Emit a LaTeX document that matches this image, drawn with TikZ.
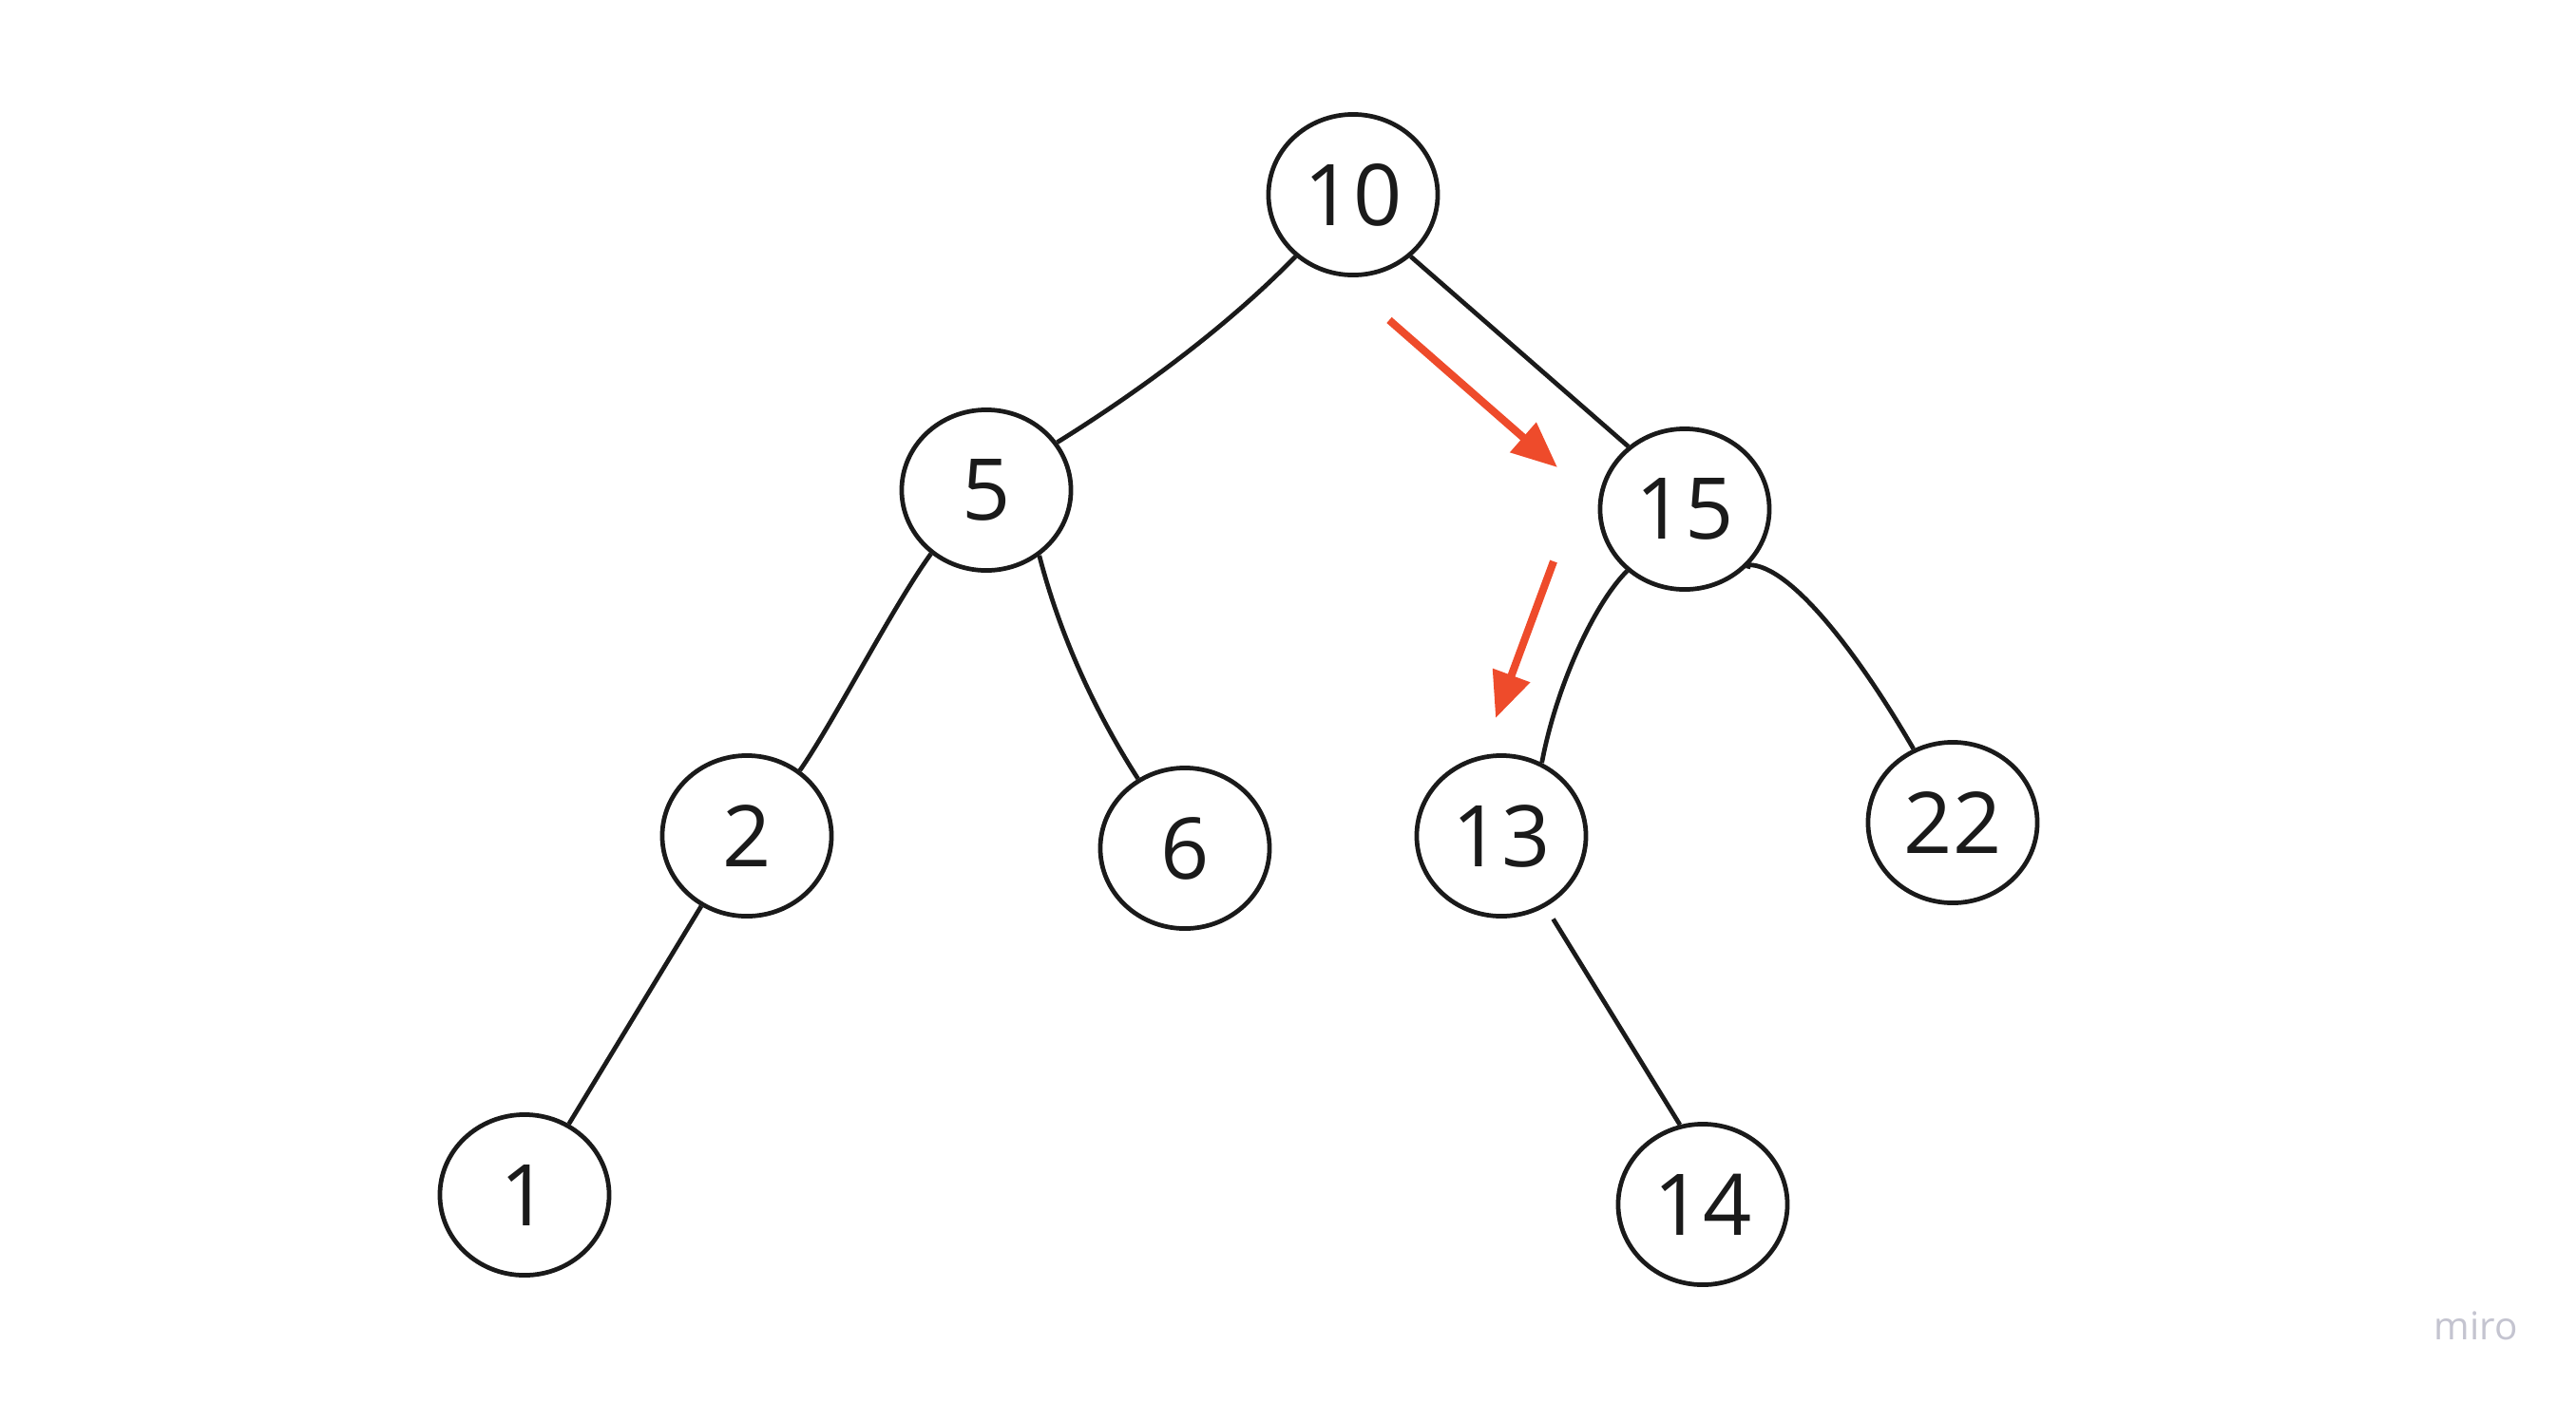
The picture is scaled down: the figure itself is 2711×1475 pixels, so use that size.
\documentclass[tikz,border=0pt]{standalone}
\usepackage{fontspec}
\setmainfont{Open Sans}
\usetikzlibrary{shapes.geometric,arrows.meta}
\definecolor{ink}{RGB}{26,26,26}
\definecolor{redarrow}{RGB}{238,75,43}
\definecolor{logogray}{RGB}{196,196,208}
\begin{document}
\begin{tikzpicture}[x=0.01cm,y=-0.01cm,
  bstnode/.style={ellipse,draw=ink,line width=1.35pt,minimum width=1.78cm,minimum height=1.69cm,inner sep=0pt,font=\fontsize{25.5}{30}\selectfont,text=ink},
  link/.style={draw=ink,line width=1.35pt},
  hint/.style={draw=redarrow,line width=2.3pt,-{Triangle[length=0.48cm,width=0.40cm]}}]
\fill[white] (0,0) rectangle (2711,1475);
\useasboundingbox (0,0) rectangle (2711,1475);
% nodes
\node[bstnode] (n10) at (1424,205) {10};
\node[bstnode] (n5)  at (1038,516) {5};
\node[bstnode] (n15) at (1773,536) {15};
\node[bstnode] (n2)  at (786,880)  {2};
\node[bstnode] (n6)  at (1247,893) {6};
\node[bstnode] (n13) at (1580,880) {13};
\node[bstnode] (n22) at (2055,866) {22};
\node[bstnode] (n1)  at (552,1258) {1};
\node[bstnode] (n14) at (1792,1268) {14};
% connectors
\draw[link] (n10.227.3) .. controls +(-70,72) and +(90,-56) .. (n5.34.9);
\draw[link] (n10.-47.8) -- (n15.132.2);
\draw[link] (n5.229.8) .. controls +(-40,55) and +(35,-50) .. (n2.51.1);
\draw[link] (n5.-51.2) .. controls +(22,85) and +(-45,-70) .. (n6.124.7);
\draw[link] (n15.227.3) .. controls +(-35,35) and +(15,-80) .. (n13.61.7);
\draw[link] ([shift={(-1,4)}]n15.-41) -- (n15.-41) .. controls +(45,0) and +(-55,-95) .. (n22.118.9);
\draw[link] (n2.237) -- (n1.58.7);
\draw[link,shorten <=0.15cm] (n13.-58.6) -- (n14.106.6);
% search path arrows
\coordinate (a1s) at (1462,337);
\coordinate (a1e) at (1639,492);
\coordinate (a2s) at (1635,591);
\coordinate (a2e) at (1574,756);
\draw[hint] (a1s) -- (a1e);
\draw[hint] (a2s) -- (a2e);
% logo
\node[anchor=base west,inner sep=0pt,text=logogray,font=\fontsize{11.5}{13}\selectfont] (logo) at (2561,1410) {miro};
\end{tikzpicture}
\end{document}
